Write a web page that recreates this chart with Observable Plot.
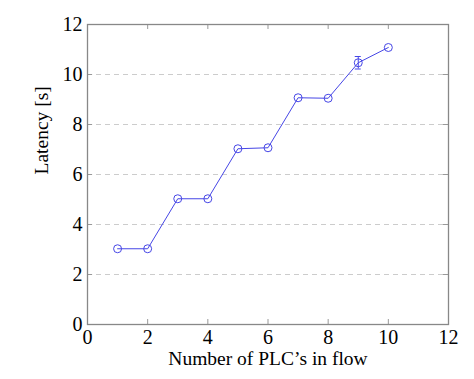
<!DOCTYPE html>
<html>
<head>
<meta charset="utf-8">
<script src="https://cdn.jsdelivr.net/npm/d3@7"></script>
<script src="https://cdn.jsdelivr.net/npm/@observablehq/plot@0.6"></script>
<style>
  body { margin: 0; background: #fff; }
  svg { font-family: "Liberation Serif", "DejaVu Serif", serif; }
</style>
</head>
<body>
<div id="chart"></div>
<script>
const plcs = [1, 2, 3, 4, 5, 6, 7, 8, 9, 10];
const latency = [3.03, 3.03, 5.03, 5.03, 7.03, 7.07, 9.07, 9.05, 10.47, 11.08];
const latencyErr = [0, 0, 0, 0, 0, 0, 0, 0, 0.25, 0];
const xTicks = [0, 2, 4, 6, 8, 10, 12];
const yTicks = [0, 2, 4, 6, 8, 10, 12];
const gridTicks = [2, 4, 6, 8, 10];

const data = plcs.map((x, i) => ({x, y: latency[i], e: latencyErr[i]}));
const errData = data.filter(d => d.e > 0);
const blue = "#4646e6";
const capHalf = 0.1;

const chart = Plot.plot({
  width: 474,
  height: 379,
  marginLeft: 87,
  marginRight: 26,
  marginTop: 24,
  marginBottom: 55,
  style: {fontSize: "20px", fontFamily: "'Liberation Serif', serif", color: "#000", background: "#fff"},
  x: {type: "linear", domain: [0, 12], ticks: xTicks, label: null},
  y: {type: "linear", domain: [0, 12], ticks: yTicks, label: null},
  marks: [
    Plot.gridY(gridTicks, {stroke: "#cccccc", strokeOpacity: 1, strokeDasharray: "5,4", strokeWidth: 1}),
    Plot.axisX(xTicks, {anchor: "bottom", tickSize: 0, tickPadding: 5, fontSize: 20}),
    Plot.axisY(yTicks, {anchor: "left", tickSize: 0, tickPadding: 5, fontSize: 20}),
    Plot.ruleX(xTicks.slice(1, -1), {x: d => d, y1: 0, y2: 0.2, stroke: "#999"}),
    Plot.ruleX(xTicks.slice(1, -1), {x: d => d, y1: 12, y2: 11.8, stroke: "#999"}),
    Plot.ruleY(yTicks.slice(1, -1), {y: d => d, x1: 0, x2: 0.17, stroke: "#999"}),
    Plot.ruleY(yTicks.slice(1, -1), {y: d => d, x1: 12, x2: 11.83, stroke: "#999"}),
    Plot.frame({stroke: "#888", strokeWidth: 1.3}),
    Plot.line(data, {x: "x", y: "y", stroke: blue, strokeWidth: 1}),
    Plot.ruleX(errData, {x: "x", y1: d => d.y - d.e, y2: d => d.y + d.e, stroke: blue}),
    Plot.ruleY(errData, {y: d => d.y - d.e, x1: d => d.x - capHalf, x2: d => d.x + capHalf, stroke: blue}),
    Plot.ruleY(errData, {y: d => d.y + d.e, x1: d => d.x - capHalf, x2: d => d.x + capHalf, stroke: blue}),
    Plot.dot(data, {x: "x", y: "y", r: 4, stroke: blue, strokeWidth: 1, fill: "none"}),
    Plot.text(["Number of PLC’s in flow"], {frameAnchor: "bottom", dy: 40, fontSize: 19.5, fill: "#000"}),
    Plot.text(["Latency [s]"], {frameAnchor: "left", dx: -46, rotate: -90, fontSize: 19.5, fill: "#000"})
  ]
});
document.getElementById("chart").appendChild(chart);
</script>
</body>
</html>
